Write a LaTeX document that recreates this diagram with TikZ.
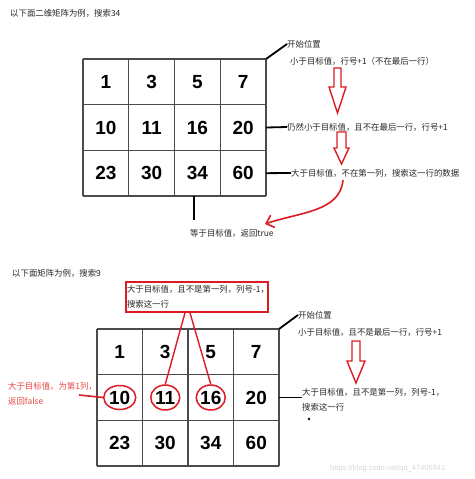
\documentclass[tikz,border=0pt]{standalone}
\usepackage{fontspec}
\setmainfont{Liberation Sans}
\newfontfamily\cjk{Noto Sans CJK SC}
\usetikzlibrary{arrows.meta,shapes.geometric}
\definecolor{mred}{RGB}{220,28,36}
\definecolor{lred}{RGB}{232,70,70}
\definecolor{gline}{RGB}{75,75,75}
\definecolor{txt}{RGB}{40,40,40}
\tikzset{
  num/.style={font=\fontsize{19}{19}\selectfont\bfseries, text=black},
  note/.style={font=\cjk\fontsize{8.4}{15}\selectfont, text=txt, inner sep=0pt,
    anchor=west, align=left},
  lead/.style={line width=1.8pt, black},
  grid line/.style={line width=1.3pt, gline},
  ring/.style={draw=mred, line width=1.5pt, ellipse, inner sep=0pt,
    minimum width=29pt, minimum height=25pt},
  hollow/.style={draw=mred, line width=1.4pt, fill=white, line join=miter},
}
% x, half shaft, half head, top, neck, tip
\newcommand{\hollowdown}[6]{%
  \draw[hollow] (#1-#2,#4) -- (#1+#2,#4) -- (#1+#2,#5) -- (#1+#3,#5)
    -- (#1,#6) -- (#1-#3,#5) -- (#1-#2,#5) -- cycle;}
\begin{document}
\begin{tikzpicture}[x=1pt,y=-1pt]
\fill[white] (0,0) rectangle (474,479);
\useasboundingbox (0,0) rectangle (474,479);

% first example: search 34
\node[note] (title1) at (10,13) {以下面二维矩阵为例，搜索34};
\foreach \i in {0,...,4}
  \draw[grid line] ({83+45.75*\i},59) -- ({83+45.75*\i},196);
\foreach \j in {0,...,3}
  \draw[grid line] (83,{59+45.67*\j}) -- (266,{59+45.67*\j});
\foreach \v [count=\k from 0] in {1,3,5,7,10,11,16,20,23,30,34,60} {
  \pgfmathtruncatemacro\c{mod(\k,4)}
  \pgfmathtruncatemacro\r{div(\k,4)}
  \node[num] (t\k) at ({83+45.75*(\c+.5)},{59+45.67*(\r+.5)}) {\v};
}
\coordinate (tNE) at (266,59);
\coordinate (tSW) at (83,196);
\node[note] (s1) at (287,44) {开始位置};
\node[note] (n1) at (290,61) {小于目标值，行号+1（不在最后一行）};
\node[note] (n2) at (287,127) {仍然小于目标值，且不在最后一行，行号+1};
\node[note] (n3) at (291,173) {大于目标值，不在第一列，搜索这一行的数据};
\node[note] (n4) at (190,233) {等于目标值，返回true};
\draw[lead] (tNE) -- (s1.west);
\draw[lead] (tNE |- t7) -- (n2.west);
\draw[lead] (tNE |- t11) -- (n3.west);
\draw[lead] (tSW -| 194,0) -- (194,220);
\hollowdown{337.5}{3.5}{8.5}{68}{87}{113}
\hollowdown{341.5}{4.5}{7.5}{132}{148}{164}
\coordinate (cS) at (343,180);
\coordinate (cE) at (265,224);
\draw[mred, line width=1.6pt, -{Straight Barb[length=7pt,width=13pt]}]
  (cS) .. controls (340,212) and (300,212) .. (cE);

% second example: search 9
\node[note] (title2) at (12,273) {以下面矩阵为例，搜索9};
\foreach \i in {0,...,4}
  \draw[grid line] ({97+45.5*\i},329) -- ({97+45.5*\i},466);
\foreach \j in {0,...,3}
  \draw[grid line] (97,{329+45.67*\j}) -- (279,{329+45.67*\j});
\foreach \v [count=\k from 0] in {1,3,5,7,10,11,16,20,23,30,34,60} {
  \pgfmathtruncatemacro\c{mod(\k,4)}
  \pgfmathtruncatemacro\r{div(\k,4)}
  \node[num] (b\k) at ({97+45.5*(\c+.5)},{329+45.67*(\r+.5)}) {\v};
}
\coordinate (bNE) at (279,329);
\node[ring, minimum width=32pt, minimum height=24pt] (r10) at (b4) {};
\node[ring] (r11) at (b5) {};
\node[ring] (r16) at (b6) {};
\node[note, draw=mred, line width=1.6pt, anchor=center, text width=140pt,
  inner xsep=1pt, minimum height=30pt] (box) at (197,297)
  {\mbox{大于目标值，且不是第一列，列号-1，}\\搜索这一行};
\draw[mred, line width=1.4pt] ([xshift=-12pt]box.south) -- (r11.north);
\draw[mred, line width=1.4pt] ([xshift=-7pt]box.south) -- (r16.north);
\node[note] (s2) at (298,315) {开始位置};
\node[note] (n5) at (298,332) {小于目标值，且不是最后一行，行号+1};
\node[note] (n6) at (302,400) {大于目标值，且不是第一列，列号-1，\\搜索这一行};
\node[note, text=lred] (nf) at (8,394) {大于目标值，为第1列，\\返回false};
\draw[lead] (bNE) -- (s2.west);
\draw[lead] (bNE |- b7) -- (n6.west |- b7);
\hollowdown{356}{4}{9}{341}{361}{383}
\coordinate (fS) at (79,395);
\draw[mred, line width=1.6pt] (fS) -- (r10.west);
\fill (309,419) circle[radius=1.3pt];
\node[font=\fontsize{7.5}{8}\selectfont, text=black!15, inner sep=0pt, anchor=west]
  (mark) at (330,469) {https://blog.csdn.net/qq\_47406941};
\end{tikzpicture}
\end{document}
